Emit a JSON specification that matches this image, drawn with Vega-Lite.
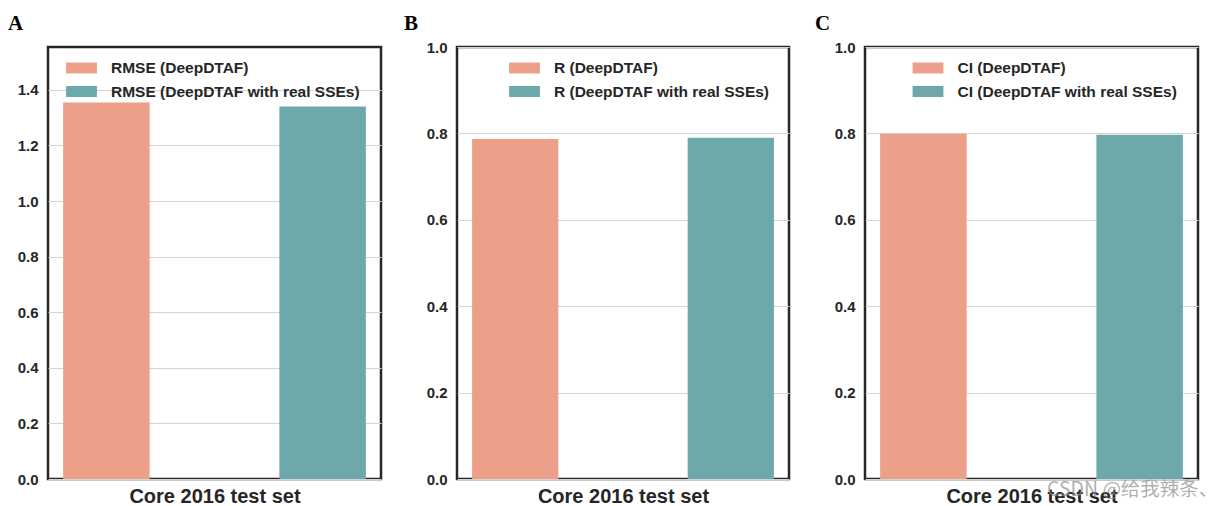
{
  "$schema": "https://vega.github.io/schema/vega-lite/v6.json",
  "background": "white",
  "padding": {"left": 6, "top": 11, "right": 5, "bottom": 0},
  "datasets": {
    "scores": [
      {"metric": "RMSE", "model": "DeepDTAF", "label": "RMSE (DeepDTAF)", "value": 1.354},
      {"metric": "RMSE", "model": "DeepDTAF with real SSEs", "label": "RMSE (DeepDTAF with real SSEs)", "value": 1.340},
      {"metric": "R", "model": "DeepDTAF", "label": "R (DeepDTAF)", "value": 0.787},
      {"metric": "R", "model": "DeepDTAF with real SSEs", "label": "R (DeepDTAF with real SSEs)", "value": 0.790},
      {"metric": "CI", "model": "DeepDTAF", "label": "CI (DeepDTAF)", "value": 0.799},
      {"metric": "CI", "model": "DeepDTAF with real SSEs", "label": "CI (DeepDTAF with real SSEs)", "value": 0.797}
    ]
  },
  "data": {"name": "scores"},
  "bounds": "flush",
  "spacing": 76,
  "title": {
    "text": "CSDN @给我辣条、",
    "orient": "bottom",
    "anchor": "start",
    "frame": "group",
    "font": "Noto Sans CJK SC",
    "fontSize": 19.5,
    "fontWeight": "normal",
    "color": "rgba(140,140,140,0.7)",
    "offset": -11,
    "dx": 999,
    "baseline": "alphabetic"
  },
  "hconcat": [
    {
      "title": {"text": "A", "dx": -40, "offset": 13},
      "width": 333,
      "height": 432,
      "transform": [{"filter": "datum.metric === 'RMSE'"}],
      "mark": {"type": "bar"},
      "encoding": {
        "x": {"field": "model", "type": "nominal", "sort": ["DeepDTAF", "DeepDTAF with real SSEs"],
              "scale": {"paddingInner": 0.6, "paddingOuter": 0.07},
              "axis": {"title": "Core 2016 test set", "labels": false, "ticks": false, "domain": false}},
        "y": {"field": "value", "type": "quantitative",
              "scale": {"domain": [0, 1.554], "nice": false, "zero": true},
              "axis": {"values": [0, 0.2, 0.4, 0.6, 0.8, 1.0, 1.2, 1.4], "format": ".1f", "title": null}},
        "color": {"field": "label", "type": "nominal", "sort": ["RMSE (DeepDTAF)", "RMSE (DeepDTAF with real SSEs)"],
                  "scale": {"range": ["#EDA089", "#6DA8AA"]},
                  "legend": {"title": null, "orient": "none", "legendX": 22.5, "legendY": 10}}
      }
    },
    {
      "title": {"text": "B", "dx": -53, "offset": 6},
      "width": 332,
      "height": 432,
      "transform": [{"filter": "datum.metric === 'R'"}],
      "mark": {"type": "bar"},
      "encoding": {
        "x": {"field": "model", "type": "nominal", "sort": ["DeepDTAF", "DeepDTAF with real SSEs"],
              "scale": {"paddingInner": 0.6, "paddingOuter": 0.07},
              "axis": {"title": "Core 2016 test set", "labels": false, "ticks": false, "domain": false}},
        "y": {"field": "value", "type": "quantitative",
              "scale": {"domain": [0, 1.0], "nice": false, "zero": true},
              "axis": {"values": [0, 0.2, 0.4, 0.6, 0.8, 1.0], "format": ".1f", "title": null}},
        "color": {"field": "label", "type": "nominal", "sort": ["R (DeepDTAF)", "R (DeepDTAF with real SSEs)"],
                  "scale": {"range": ["#EDA089", "#6DA8AA"]},
                  "legend": {"title": null, "orient": "none", "legendX": 56.5, "legendY": 10}}
      }
    },
    {
      "title": {"text": "C", "dx": -50, "offset": 6},
      "width": 333,
      "height": 432,
      "transform": [{"filter": "datum.metric === 'CI'"}],
      "mark": {"type": "bar"},
      "encoding": {
        "x": {"field": "model", "type": "nominal", "sort": ["DeepDTAF", "DeepDTAF with real SSEs"],
              "scale": {"paddingInner": 0.6, "paddingOuter": 0.07},
              "axis": {"title": "Core 2016 test set", "labels": false, "ticks": false, "domain": false}},
        "y": {"field": "value", "type": "quantitative",
              "scale": {"domain": [0, 1.0], "nice": false, "zero": true},
              "axis": {"values": [0, 0.2, 0.4, 0.6, 0.8, 1.0], "format": ".1f", "title": null}},
        "color": {"field": "label", "type": "nominal", "sort": ["CI (DeepDTAF)", "CI (DeepDTAF with real SSEs)"],
                  "scale": {"range": ["#EDA089", "#6DA8AA"]},
                  "legend": {"title": null, "orient": "none", "legendX": 52, "legendY": 10}}
      }
    }
  ],
  "resolve": {
    "scale": {"color": "independent", "y": "independent", "x": "independent"},
    "legend": {"color": "independent"},
    "axis": {"y": "independent", "x": "independent"}
  },
  "config": {
    "view": {"stroke": "#262626", "strokeWidth": 2.5},
    "axis": {
      "labelFont": "Liberation Sans", "labelFontWeight": "bold", "labelFontSize": 15, "labelColor": "#262626",
      "titleFont": "Liberation Sans", "titleFontWeight": "bold", "titleFontSize": 20, "titleColor": "#262626",
      "gridColor": "#d3d3d3", "gridWidth": 1.2, "domain": false, "ticks": false, "labelPadding": 10
    },
    "axisX": {"grid": false, "titlePadding": 7},
    "legend": {
      "labelFont": "Liberation Sans", "labelFontWeight": "bold", "labelFontSize": 15.5, "labelColor": "#262626",
      "symbolType": "M-1.4,-0.5H1.4V0.5H-1.4Z", "symbolSize": 484, "symbolStrokeWidth": 0, "symbolOpacity": 1,
      "labelOffset": 18.5, "rowPadding": 3.5, "padding": 0, "labelLimit": 400
    },
    "title": {
      "font": "Liberation Serif", "fontSize": 21, "fontWeight": "bold", "color": "#000000",
      "anchor": "start", "frame": "group", "baseline": "alphabetic"
    }
  }
}
